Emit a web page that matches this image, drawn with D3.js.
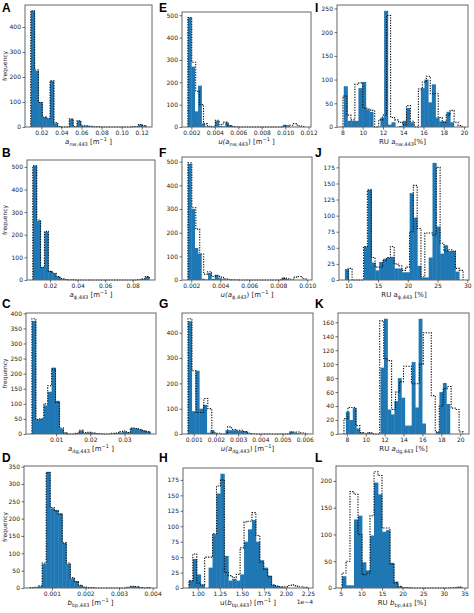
<!DOCTYPE html>
<html>
<head>
<meta charset="utf-8">
<script src="https://cdn.jsdelivr.net/npm/d3@7"></script>
<style>
body { margin: 0; background: #fff; }
svg { font-family: "DejaVu Sans", sans-serif; }
.axis text { font-size: 6px; fill: #222; font-family: "DejaVu Sans", sans-serif; }
.axis line { stroke: #333; stroke-width: 0.7; }
.letter { font-family: "Liberation Sans", Arial, sans-serif; font-weight: bold; font-size: 12px; }
.xlab { font-size: 7px; fill: #222; }
.ylab { font-size: 6px; fill: #222; }
</style>
</head>
<body>
<svg id="chart" width="474" height="613"></svg>
<script>
// 30-bin histograms: counts = filled blue bars, step = dotted outline histogram
// bins = [first edge, last edge]

// A  a_nw,443
var binsA = [0.0095, 0.1245], stepBinsA = [0.0095, 0.1245];
var countsA = [465, 225, 100, 40, 35, 185, 15, 2, 0, 0, 32, 1, 25, 5, 5, 3, 1, 1, 0, 0, 0, 0, 0, 0, 0, 0, 1, 2, 10, 5];
var stepA   = [465, 228, 98, 40, 35, 185, 18, 2, 0, 0, 33, 2, 25, 5, 5, 3, 1, 1, 0, 0, 0, 0, 0, 0, 0, 0, 1, 2, 10, 6];
var xTicksA = [0.02, 0.04, 0.06, 0.08, 0.10, 0.12];
var yTicksA = [0, 100, 200, 300, 400];

// B  a_phi,443
var binsB = [0.0075, 0.092], stepBinsB = [0.0075, 0.092];
var countsB = [505, 262, 58, 212, 40, 30, 15, 5, 2, 1, 1, 0, 0, 0, 0, 0, 0, 0, 0, 0, 0, 0, 0, 0, 0, 0, 0, 1, 5, 15];
var stepB   = [505, 265, 55, 215, 38, 30, 15, 6, 2, 1, 1, 0, 0, 0, 0, 0, 0, 0, 0, 0, 0, 0, 0, 0, 0, 0, 0, 2, 5, 15];
var xTicksB = [0.02, 0.04, 0.06, 0.08];
var yTicksB = [0, 100, 200, 300, 400, 500];

// C  a_dg,443
var binsC = [0.0029, 0.0375], stepBinsC = [0.0029, 0.0375];
var countsC = [375, 48, 50, 95, 140, 220, 110, 18, 5, 0, 0, 3, 10, 3, 5, 4, 2, 1, 0, 0, 1, 2, 5, 8, 5, 20, 18, 15, 12, 8];
var stepC   = [382, 48, 50, 100, 160, 215, 105, 20, 3, 0, 0, 2, 12, 5, 6, 3, 1, 1, 0, 0, 2, 3, 8, 10, 5, 20, 18, 15, 10, 8];
var xTicksC = [0.01, 0.02, 0.03];
var yTicksC = [0, 50, 100, 150, 200, 250, 300, 350, 400];

// D  b_bp,443
var binsD = [0.00035, 0.00395], stepBinsD = [0.00035, 0.00395];
var countsD = [1, 2, 5, 70, 335, 230, 225, 215, 130, 70, 28, 20, 8, 3, 1, 1, 0, 0, 0, 0, 0, 0, 0, 0, 2, 5, 3, 1, 0, 1];
var stepD   = [1, 2, 6, 72, 333, 232, 222, 213, 130, 72, 30, 18, 8, 3, 1, 1, 0, 0, 0, 0, 0, 0, 0, 0, 2, 5, 4, 1, 0, 1];
var xTicksD = [0.001, 0.002, 0.003, 0.004];
var yTicksD = [0, 50, 100, 150, 200, 250, 300, 350];

// E  u(a_nw,443)
var binsE = [0.0017, 0.0104], stepBinsE = [0.0017, 0.0117];
var countsE = [490, 270, 70, 185, 15, 2, 0, 1, 28, 5, 3, 20, 8, 2, 0, 0, 0, 0, 0, 0, 0, 0, 0, 0, 0, 0, 0, 0, 10, 3];
var stepE   = [490, 290, 160, 100, 15, 3, 1, 30, 10, 22, 5, 2, 1, 0, 0, 0, 0, 0, 0, 0, 0, 0, 0, 0, 3, 5, 8, 15, 5, 2];
var xTicksE = [0.002, 0.004, 0.006, 0.008, 0.010, 0.012];
var yTicksE = [0, 100, 200, 300, 400, 500];

// F  u(a_phi,443)
var binsF = [0.00177, 0.0087], stepBinsF = [0.00177, 0.00992];
var countsF = [490, 300, 135, 110, 5, 2, 30, 5, 22, 8, 3, 2, 1, 1, 0, 0, 0, 0, 0, 0, 0, 0, 0, 0, 0, 0, 0, 0, 10, 4];
var stepF   = [495, 305, 215, 110, 25, 35, 15, 18, 12, 5, 2, 1, 1, 0, 0, 0, 0, 0, 0, 0, 0, 0, 0, 1, 8, 5, 3, 12, 15, 5];
var xTicksF = [0.002, 0.004, 0.006, 0.008, 0.010];
var yTicksF = [0, 100, 200, 300, 400, 500];

// G  u(a_dg,443)
var binsG = [0.00074, 0.0058], stepBinsG = [0.00074, 0.0061];
var countsG = [445, 90, 250, 100, 115, 5, 15, 3, 0, 0, 15, 15, 15, 13, 12, 10, 2, 0, 0, 0, 0, 0, 0, 0, 0, 0, 1, 10, 6, 3];
var stepG   = [455, 250, 85, 85, 140, 100, 5, 3, 0, 0, 28, 18, 15, 15, 10, 3, 1, 0, 0, 0, 0, 0, 0, 0, 0, 0, 8, 8, 5, 3];
var xTicksG = [0.001, 0.002, 0.003, 0.004, 0.005, 0.006];
var yTicksG = [0, 100, 200, 300, 400];

// H  u(b_bp,443)
var binsH = [0.9e-4, 2.24e-4], stepBinsH = [0.9e-4, 2.24e-4];
var countsH = [12, 47, 22, 5, 0, 33, 87, 153, 185, 52, 12, 15, 12, 22, 75, 95, 110, 75, 45, 33, 20, 5, 3, 2, 1, 0, 0, 0, 0, 0];
var stepH   = [12, 55, 8, 5, 50, 50, 88, 165, 175, 25, 20, 17, 22, 65, 107, 108, 122, 85, 42, 30, 18, 5, 3, 2, 2, 4, 5, 3, 2, 1];
var xTicksH = [1.0e-4, 1.25e-4, 1.5e-4, 1.75e-4, 2.0e-4, 2.25e-4];
var yTicksH = [0, 25, 50, 75, 100, 125, 150, 175];

// I  RU a_nw,443
var binsI = [8.13, 19.0], stepBinsI = [8.05, 19.81];
var countsI = [86, 13, 13, 13, 82, 95, 37, 32, 0, 0, 20, 245, 5, 10, 0, 2, 13, 40, 10, 0, 0, 82, 100, 52, 90, 20, 12, 12, 32, 10];
var stepI   = [65, 25, 15, 90, 93, 40, 38, 35, 0, 15, 25, 235, 20, 15, 10, 5, 45, 12, 0, 80, 95, 107, 70, 70, 20, 10, 25, 35, 10, 3];
var xTicksI = [8, 10, 12, 14, 16, 18, 20];
var yTicksI = [0, 50, 100, 150, 200, 250];

// J  RU a_phi,443
var binsJ = [9.44, 28.64], stepBinsJ = [10.0, 29.3];
var countsJ = [17, 0, 0, 0, 0, 52, 140, 27, 15, 28, 33, 35, 36, 18, 18, 12, 12, 135, 97, 22, 4, 4, 35, 182, 83, 41, 54, 45, 45, 13];
var stepJ   = [18, 0, 0, 0, 52, 140, 35, 20, 20, 30, 35, 52, 25, 22, 15, 20, 75, 147, 80, 5, 73, 73, 70, 175, 57, 45, 47, 45, 18, 15];
var xTicksJ = [10, 15, 20, 25, 30];
var yTicksJ = [0, 25, 50, 75, 100, 125, 150, 175];

// K  RU a_dg,443
var binsK = [7.9, 18.9], stepBinsK = [7.7, 20.3];
var countsK = [32, 20, 37, 8, 2, 0, 2, 1, 0, 0, 95, 165, 35, 28, 47, 80, 52, 12, 12, 103, 38, 165, 15, 0, 0, 0, 3, 60, 73, 43];
var stepK   = [22, 38, 38, 12, 2, 1, 2, 0, 0, 162, 108, 105, 35, 60, 75, 97, 97, 72, 72, 100, 145, 145, 55, 3, 40, 65, 68, 37, 35, 3];
var xTicksK = [8, 10, 12, 14, 16, 18, 20];
var yTicksK = [0, 20, 40, 60, 80, 100, 120, 140, 160];

// L  RU b_bp,443
var binsL = [5.3, 34.4], stepBinsL = [5.3, 34.4];
var countsL = [22, 5, 5, 128, 135, 48, 33, 98, 197, 175, 105, 108, 47, 12, 3, 1, 1, 0, 0, 0, 0, 0, 0, 0, 0, 0, 0, 0, 1, 2];
var stepL   = [28, 50, 180, 175, 100, 25, 28, 135, 217, 210, 112, 112, 45, 10, 3, 1, 1, 0, 0, 0, 0, 0, 0, 0, 0, 0, 0, 1, 1, 2];
var xTicksL = [5, 10, 15, 20, 25, 30, 35];
var yTicksL = [0, 50, 100, 150, 200];

// x axis titles: [text, style]
var labelA = [['a','i'],['nw,443','sub'],[' [m',''],['\u22121','sup'],[' ]','']];
var labelB = [['a','i'],['\u03d5,443','sub'],[' [m',''],['\u22121','sup'],[' ]','']];
var labelC = [['a','i'],['dg,443','sub'],[' [m',''],['\u22121','sup'],[' ]','']];
var labelD = [['b','i'],['bp,443','sub'],[' [m',''],['\u22121','sup'],[' ]','']];
var labelE = [['u(','i'],['a','i'],['nw,443','sub'],[') [m',''],['\u22121','sup'],[' ]','']];
var labelF = [['u(','i'],['a','i'],['\u03d5,443','sub'],[')  [m',''],['\u22121','sup'],[' ]','']];
var labelG = [['u(','i'],['a','i'],['dg,443','sub'],[') [m',''],['\u22121','sup'],[']','']];
var labelH = [['u(',''],['b','i'],['bp,443','sub'],[')  [m',''],['\u22121','sup'],[' ]','']];
var labelI = [['RU a',''],['nw,443','sub'],['[%]','']];
var labelJ = [['RU a',''],['\u03d5,443','sub'],[' [%]','']];
var labelK = [['RU ',''],['a','i'],['dg,443','sub'],[' [%]','']];
var labelL = [['RU ',''],['b','i'],['bp,443','sub'],['  [%]','']];

// panel frames in px: [left, right, top, bottom]
var frames = {
    A: [25, 152, 5, 127],   E: [182, 311, 12, 127],  I: [337, 468, 5, 127],
    B: [27, 155, 160, 280], F: [182, 312, 157, 280], J: [339, 469, 157, 280],
    C: [26, 156, 313, 434], G: [182, 313, 313, 434], K: [338, 469, 313, 434],
    D: [24, 157, 466, 588], H: [183, 313, 468, 588], L: [336, 468, 466, 588]
};
var letterX = {A: 2, B: 2, C: 2, D: 2, E: 159, F: 159, G: 159, H: 159, I: 315, J: 315, K: 315, L: 315};
var letterY = {A: 12, E: 12, I: 12, B: 157, F: 157, J: 157, C: 308, G: 308, K: 308, D: 462, H: 462, L: 462};

var f2 = d3.format('.2f'), f3 = d3.format('.3f'), fd = d3.format('d');
var fH = function(v) { return (v * 1e4).toFixed(2); };

var panels = [
    {id: 'A', bins: binsA, stepBins: stepBinsA, counts: countsA, step: stepA, xTicks: xTicksA, yTicks: yTicksA, fmt: f2, label: labelA, ylab: true},
    {id: 'B', bins: binsB, stepBins: stepBinsB, counts: countsB, step: stepB, xTicks: xTicksB, yTicks: yTicksB, fmt: f2, label: labelB, ylab: true},
    {id: 'C', bins: binsC, stepBins: stepBinsC, counts: countsC, step: stepC, xTicks: xTicksC, yTicks: yTicksC, fmt: f2, label: labelC, ylab: true},
    {id: 'D', bins: binsD, stepBins: stepBinsD, counts: countsD, step: stepD, xTicks: xTicksD, yTicks: yTicksD, fmt: f3, label: labelD, ylab: true},
    {id: 'E', bins: binsE, stepBins: stepBinsE, counts: countsE, step: stepE, xTicks: xTicksE, yTicks: yTicksE, fmt: f3, label: labelE},
    {id: 'F', bins: binsF, stepBins: stepBinsF, counts: countsF, step: stepF, xTicks: xTicksF, yTicks: yTicksF, fmt: f3, label: labelF},
    {id: 'G', bins: binsG, stepBins: stepBinsG, counts: countsG, step: stepG, xTicks: xTicksG, yTicks: yTicksG, fmt: f3, label: labelG},
    {id: 'H', bins: binsH, stepBins: stepBinsH, counts: countsH, step: stepH, xTicks: xTicksH, yTicks: yTicksH, fmt: fH, label: labelH, offset: '1e\u22124'},
    {id: 'I', bins: binsI, stepBins: stepBinsI, counts: countsI, step: stepI, xTicks: xTicksI, yTicks: yTicksI, fmt: fd, label: labelI},
    {id: 'J', bins: binsJ, stepBins: stepBinsJ, counts: countsJ, step: stepJ, xTicks: xTicksJ, yTicks: yTicksJ, fmt: fd, label: labelJ},
    {id: 'K', bins: binsK, stepBins: stepBinsK, counts: countsK, step: stepK, xTicks: xTicksK, yTicks: yTicksK, fmt: fd, label: labelK},
    {id: 'L', bins: binsL, stepBins: stepBinsL, counts: countsL, step: stepL, xTicks: xTicksL, yTicks: yTicksL, fmt: fd, label: labelL}
];

var svg = d3.select('#chart');

function binEdges(range, n) {
    return d3.range(n + 1).map(function(i) { return range[0] + i * (range[1] - range[0]) / n; });
}

function addParts(text, parts) {
    var shift = 0;
    parts.forEach(function(p) {
        var t = text.append('tspan').text(p[0]);
        var want = p[1] == 'sub' ? 2 : (p[1] == 'sup' ? -3 : 0);
        if (want != shift) { t.attr('dy', want - shift); shift = want; }
        if (p[1] == 'sub' || p[1] == 'sup') t.attr('font-size', '5px');
        if (p[1] == 'i') t.attr('font-style', 'italic');
    });
}

panels.forEach(function(p) {
    var f = frames[p.id];
    var lo = Math.min(p.bins[0], p.stepBins[0]);
    var hi = Math.max(p.bins[1], p.stepBins[1]);
    var pad = 0.05 * (hi - lo);
    var x = d3.scaleLinear().domain([lo - pad, hi + pad]).range([f[0], f[1]]);
    var y = d3.scaleLinear().domain([0, 1.05 * d3.max(p.counts.concat(p.step))]).range([f[3], f[2]]);

    var edges = binEdges(p.bins, p.counts.length);
    var stepEdges = binEdges(p.stepBins, p.step.length);
    var g = svg.append('g').attr('class', 'panel');

    // filled bars
    g.selectAll('rect.bar')
        .data(p.counts)
        .enter()
        .append('rect')
        .attr('class', 'bar')
        .attr('x', function(d, i) { return x(edges[i]); })
        .attr('width', function(d, i) { return x(edges[i + 1]) - x(edges[i]) + 0.4; })
        .attr('y', function(d) { return y(d); })
        .attr('height', function(d) { return y(0) - y(d); })
        .style('fill', '#1f77b4');

    // dotted step outline
    var pts = [[stepEdges[0], 0]];
    p.step.forEach(function(c, i) {
        pts.push([stepEdges[i], c]);
        pts.push([stepEdges[i + 1], c]);
    });
    pts.push([stepEdges[p.step.length], 0]);
    var line = d3.line()
        .x(function(d) { return x(d[0]); })
        .y(function(d) { return y(d[1]); });
    g.append('path')
        .datum(pts)
        .attr('d', line)
        .style('fill', 'none')
        .style('stroke', '#111')
        .style('stroke-width', 1.1)
        .style('stroke-dasharray', '1.3,1.3');

    // frame
    g.append('rect')
        .attr('x', f[0]).attr('y', f[2])
        .attr('width', f[1] - f[0]).attr('height', f[3] - f[2])
        .style('fill', 'none').style('stroke', '#666').style('stroke-width', 1);

    var xAx = g.append('g')
        .attr('class', 'axis')
        .attr('transform', 'translate(0,' + f[3] + ')')
        .call(d3.axisBottom(x).tickValues(p.xTicks).tickSize(2.5).tickPadding(1.5).tickFormat(p.fmt));
    xAx.select('.domain').remove();

    var yAx = g.append('g')
        .attr('class', 'axis')
        .attr('transform', 'translate(' + f[0] + ',0)')
        .call(d3.axisLeft(y).tickValues(p.yTicks).tickSize(2.5).tickPadding(1.5).tickFormat(fd));
    yAx.select('.domain').remove();

    var xl = g.append('text')
        .attr('class', 'xlab')
        .attr('text-anchor', 'middle')
        .attr('x', (f[0] + f[1]) / 2)
        .attr('y', f[3] + 17);
    addParts(xl, p.label);

    if (p.ylab) {
        g.append('text')
            .attr('class', 'ylab')
            .attr('text-anchor', 'middle')
            .attr('transform', 'translate(7,' + (f[2] + f[3]) / 2 + ') rotate(-90)')
            .text('frequency');
    }
    if (p.offset) {
        g.append('text')
            .attr('class', 'ylab')
            .attr('text-anchor', 'end')
            .attr('x', f[1])
            .attr('y', f[3] + 16)
            .text(p.offset);
    }

    g.append('text')
        .attr('class', 'letter')
        .attr('x', letterX[p.id])
        .attr('y', letterY[p.id])
        .text(p.id);
});
</script>
</body>
</html>
